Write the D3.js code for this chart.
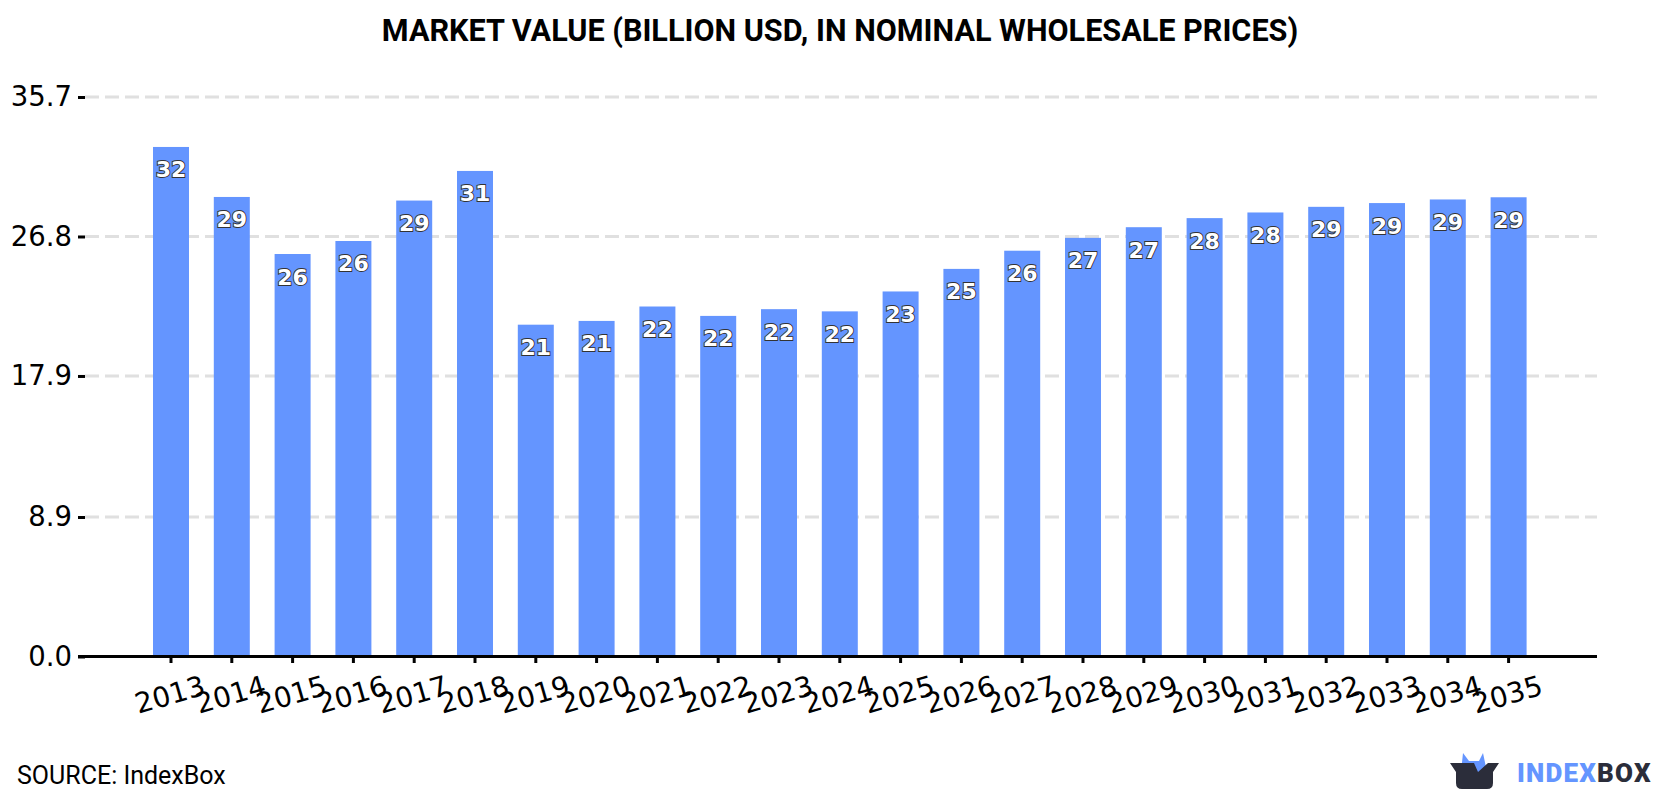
<!DOCTYPE html>
<html>
<head>
<meta charset="utf-8">
<script src="https://cdnjs.cloudflare.com/ajax/libs/d3/7.8.5/d3.min.js"></script>
<style>
html,body{margin:0;padding:0;background:#fff;}
svg{display:block;}
</style>
</head>
<body>
<svg id="chart" width="1680" height="800"></svg>
<script>
const years = ["2013","2014","2015","2016","2017","2018","2019","2020","2021","2022","2023","2024","2025","2026","2027","2028","2029","2030","2031","2032","2033","2034","2035"];
const marketValue = [32.48,29.29,25.65,26.48,29.06,30.95,21.14,21.38,22.3,21.7,22.13,21.99,23.26,24.7,25.86,26.68,27.36,27.94,28.3,28.66,28.9,29.13,29.27];
const valueTicks = [0,8.9,17.9,26.8,35.7];
const chartTitle = "MARKET VALUE (BILLION USD, IN NOMINAL WHOLESALE PRICES)";
const sourceText = "SOURCE: IndexBox";

const BLUE = "#6495ff", DARK = "#2b2d3a";
const svg = d3.select("#chart");
const tickFont = "'DejaVu Sans', sans-serif";

const x = d3.scaleBand().domain(years).range([140.6, 1539]).paddingInner(0.408).paddingOuter(0.204);
const y = d3.scaleLinear().domain([0, 35.7]).range([656, 96.5]);

svg.append("text").attr("x", 840).attr("y", 41).attr("text-anchor", "middle")
  .attr("font-family", "Roboto, sans-serif").attr("font-weight", 700).attr("font-size", 30.6)
  .attr("fill", "#000").text(chartTitle);

// Horizontal grid
svg.append("g").selectAll("line").data(valueTicks.slice(1)).join("line")
  .attr("x1", 85).attr("x2", 1597)
  .attr("y1", d => y(d) + 0.5).attr("y2", d => y(d) + 0.5)
  .attr("stroke", "#e0e0e0").attr("stroke-width", 3).attr("stroke-dasharray", "14 6");

// Bars
svg.append("g").selectAll("rect").data(years).join("rect")
  .attr("x", d => x(d)).attr("width", x.bandwidth())
  .attr("y", (d, i) => y(marketValue[i]))
  .attr("height", (d, i) => y(0) - y(marketValue[i]))
  .attr("fill", BLUE);

// Value labels inside the bars
svg.append("g").selectAll("text").data(years).join("text")
  .attr("x", d => x(d) + x.bandwidth() / 2)
  .attr("y", (d, i) => y(marketValue[i]) + 30.5)
  .attr("text-anchor", "middle")
  .attr("font-family", tickFont).attr("font-weight", 700).attr("font-size", 22)
  .attr("fill", "#fff").attr("stroke", "#333").attr("stroke-width", 1.8)
  .attr("paint-order", "stroke")
  .text((d, i) => d3.format(".0f")(marketValue[i]));

// Value axis
const yAxis = d3.axisLeft(y).tickValues(valueTicks).tickFormat(d3.format(".1f")).tickSize(7).tickPadding(6);
const gy = svg.append("g").attr("transform", "translate(85,0.5)").call(yAxis);
gy.select(".domain").remove();
gy.selectAll("line").attr("stroke", "#000").attr("stroke-width", 3);
gy.selectAll("text").attr("font-family", tickFont).attr("font-size", 27.5).attr("fill", "#000");

// Year axis
const xAxis = d3.axisBottom(x).tickSize(7).tickSizeOuter(0);
const gx = svg.append("g").attr("transform", "translate(0,656)").call(xAxis);
gx.select(".domain").remove();
gx.selectAll("line").attr("stroke", "#000").attr("stroke-width", 3);
gx.selectAll("text")
  .attr("font-family", tickFont).attr("font-size", 28).attr("fill", "#000")
  .attr("text-anchor", "middle").attr("dy", null).attr("y", 0)
  .attr("transform", "translate(1.5,48) rotate(-16)");
svg.append("line").attr("x1", 78).attr("x2", 1597).attr("y1", 656.5).attr("y2", 656.5)
  .attr("stroke", "#000").attr("stroke-width", 3);

svg.append("text").attr("x", 17).attr("y", 784)
  .attr("font-family", "Roboto, sans-serif").attr("font-size", 25).attr("fill", "#000").text(sourceText);

// Brand mark
const logo = svg.append("g").attr("transform", "translate(1400,720)");
logo.append("path").attr("fill", BLUE)
  .attr("d", "M61 52 L63 33 L69 41 L79 41 L83 33 L87 52 Z");
logo.append("path").attr("fill", DARK)
  .attr("d", "M50 43 L74 43 L78 52 L88 43 L99 43 L93 52 L93 63 Q93 69 87 69 L62 69 Q56 69 56 63 L56 52 Z");
logo.append("text").attr("x", 117).attr("y", 62)
  .attr("font-family", "Roboto, sans-serif").attr("font-weight", 900).attr("font-size", 26)
  .attr("letter-spacing", 1.2).attr("fill", BLUE).text("INDEX")
  .append("tspan").attr("fill", DARK).text("BOX");
</script>
</body>
</html>
